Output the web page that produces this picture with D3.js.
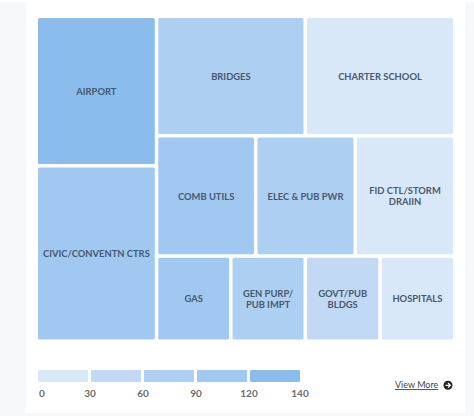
<!DOCTYPE html>
<html><head><meta charset="utf-8">
<script src="https://cdn.jsdelivr.net/npm/d3@7"></script>
<style>
html,body{margin:0;padding:0;background:#fff;overflow:hidden}
svg{display:block}
</style></head><body><div id="chart"></div>
<script>
const categories = ["AIRPORT","CIVIC/CONVENTN CTRS","BRIDGES","CHARTER SCHOOL","COMB UTILS","ELEC & PUB PWR","FID CTL/STORM DRAIIN","GAS","GEN PURP/ PUB IMPT","GOVT/PUB BLDGS","HOSPITALS"];
const columnOf = [0,0,1,1,1,1,1,1,1,1,1];
const rowOf = [0,1,2,2,3,3,3,4,4,4,4];
const sizes = [132.2,155.2,130.7,131.4,87.7,88,88,46.5,46.7,46.8,46.8];
const counts = [130,105,75,15,105,75,15,105,75,45,15];
const legendTicks = [0,30,60,90,120,140];
const legendColors = ["#d9e8f9","#c1d9f4","#adcff2","#a1c8f0","#8bbcee"];
const wrapped = {"FID CTL/STORM DRAIIN":["FID CTL/STORM","DRAIIN"],"GEN PURP/ PUB IMPT":["GEN PURP/","PUB IMPT"],"GOVT/PUB BLDGS":["GOVT/PUB","BLDGS"]};

const W=474,H=416;
const svg=d3.select("#chart").append("svg").attr("width",W).attr("height",H);
svg.append("rect").attr("x",0).attr("y",2).attr("width",26).attr("height",H-2).attr("fill","#f6f8fa");
svg.append("rect").attr("x",465).attr("y",2).attr("width",9).attr("height",H-2).attr("fill","#f6f8fa");
svg.append("rect").attr("x",26).attr("y",413).attr("width",439).attr("height",3).attr("fill","#f6f8fa");

const color=d3.scaleThreshold().domain(legendTicks.slice(1,5)).range(legendColors);
const table=categories.map((name,i)=>({name,size:sizes[i],count:counts[i],col:columnOf[i],row:rowOf[i]}));
const tree={children:d3.groups(table,d=>d.col).map(([c,v])=>({
  children:d3.groups(v,d=>d.row).map(([r,leaves])=>({children:leaves}))
}))};
const root=d3.hierarchy(tree).sum(d=>d.size||0);
const tile=(node,x0,y0,x1,y1)=>{
  (node.depth===1?d3.treemapSlice:d3.treemapDice)(node,x0,y0,x1,y1);
};
d3.treemap().tile(tile).paddingInner(3.5).size([415,321.5])(root);

const cells=svg.append("g").attr("transform","translate(38,18)").selectAll("g").data(root.leaves()).join("g");
cells.append("rect").attr("x",d=>d.x0).attr("y",d=>d.y0)
  .attr("width",d=>d.x1-d.x0).attr("height",d=>d.y1-d.y0).attr("rx",1.5)
  .attr("fill",d=>color(d.data.count));
cells.append("text").attr("text-anchor","middle")
  .attr("font-family","Lato, 'Open Sans', sans-serif").attr("font-weight",700).attr("font-size",9.4)
  .attr("fill","#47586f")
  .each(function(d){
    const lines=wrapped[d.data.name]||[d.data.name];
    const cx=(d.x0+d.x1)/2, cy=(d.y0+d.y1)/2;
    d3.select(this).selectAll("tspan").data(lines).join("tspan")
      .attr("x",cx).attr("y",(l,i)=>cy+3.8+(i-(lines.length-1)/2)*11).text(l=>l);
  });

const lx=d3.scaleLinear().domain([0,legendTicks.length-1]).range([38,303]);
const lg=svg.append("g");
lg.selectAll("rect").data(legendColors).join("rect")
  .attr("x",(d,i)=>lx(i)).attr("y",370).attr("width",(d,i)=>lx(i+1)-lx(i)-3).attr("height",12).attr("rx",1).attr("fill",d=>d);
lg.selectAll("text").data(legendTicks).join("text")
  .attr("x",(d,i)=>i===0?39:(i===5?lx(i)-3:lx(i)-1))
  .attr("y",397).attr("text-anchor",(d,i)=>i===0?"start":"middle")
  .attr("font-family","Lato, sans-serif").attr("font-size",10).attr("font-weight",700).attr("fill","#6b6b6b").text(d=>d);

svg.append("text").attr("x",395).attr("y",388).attr("font-family","Lato, sans-serif").attr("font-size",9)
  .attr("fill","#444").attr("text-decoration","underline").text("View More");
svg.append("circle").attr("cx",448).attr("cy",385.3).attr("r",4.5).attr("fill","#222");
svg.append("path").attr("d","M445.5 385.3H450M448 383L450.4 385.3L448 387.6").attr("fill","none").attr("stroke","#fff").attr("stroke-width",1.2);
</script></body></html>
